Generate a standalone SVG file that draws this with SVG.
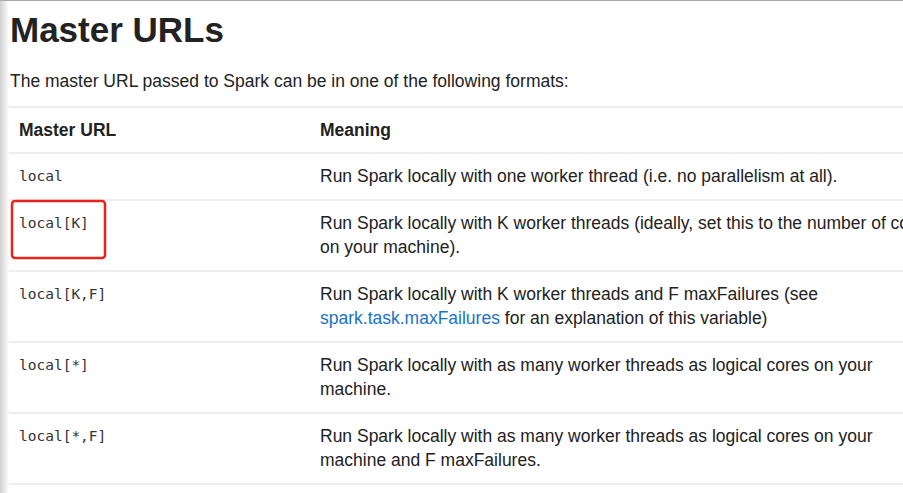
<svg xmlns="http://www.w3.org/2000/svg" width="903" height="493" viewBox="0 0 903 493">
<defs>
<linearGradient id="sh" x1="0" x2="1" y1="0" y2="0"><stop offset="0" stop-color="#d0d0d0"/><stop offset="1" stop-color="#fff"/></linearGradient>
</defs>
<style>
.t{font-family:"Liberation Sans",Arial,sans-serif;font-size:17.5px;fill:#222}
.b{font-weight:bold}
.m{font-family:"DejaVu Sans Mono","Liberation Mono",monospace;font-size:14.5px;fill:#333}
.l{stroke:#ddd;stroke-width:1.2}
.a{fill:#1a73c7}
</style>
<rect width="903" height="493" fill="#fff"/>
<rect x="0" y="0" width="9" height="493" fill="url(#sh)"/>
<line x1="0" y1="0.5" x2="903" y2="0.5" stroke="#aaa"/>
<text x="10" y="42" class="t b" style="font-size:35px">Master URLs</text>
<text x="10" y="87" class="t">The master URL passed to Spark can be in one of the following formats:</text>
<g>
<line class="l" x1="9" y1="107" x2="903" y2="107"/>
<line class="l" x1="9" y1="153" x2="903" y2="153"/>
<line class="l" x1="9" y1="200" x2="903" y2="200"/>
<line class="l" x1="9" y1="271" x2="903" y2="271"/>
<line class="l" x1="9" y1="342" x2="903" y2="342"/>
<line class="l" x1="9" y1="413" x2="903" y2="413"/>
<line class="l" x1="9" y1="484" x2="903" y2="484"/>
</g>
<text x="19" y="136" class="t b">Master URL</text>
<text x="320" y="136" class="t b">Meaning</text>
<text x="19" y="181" class="m">local</text>
<text x="320" y="182" class="t">Run Spark locally with one worker thread (i.e. no parallelism at all).</text>
<text x="19" y="228" class="m">local[K]</text>
<text x="320" y="229" class="t">Run Spark locally with K worker threads (ideally, set this to the number of cores</text>
<text x="320" y="253" class="t">on your machine).</text>
<rect x="12" y="201" width="93" height="57" rx="3" fill="none" stroke="#e8231b" stroke-width="2.5"/>
<text x="19" y="299" class="m">local[K,F]</text>
<text x="320" y="300" class="t">Run Spark locally with K worker threads and F maxFailures (see</text>
<text x="320" y="324" class="t"><tspan class="a">spark.task.maxFailures</tspan> for an explanation of this variable)</text>
<text x="19" y="370" class="m">local[*]</text>
<text x="320" y="371" class="t">Run Spark locally with as many worker threads as logical cores on your</text>
<text x="320" y="395" class="t">machine.</text>
<text x="19" y="441" class="m">local[*,F]</text>
<text x="320" y="442" class="t">Run Spark locally with as many worker threads as logical cores on your</text>
<text x="320" y="466" class="t">machine and F maxFailures.</text>
</svg>
